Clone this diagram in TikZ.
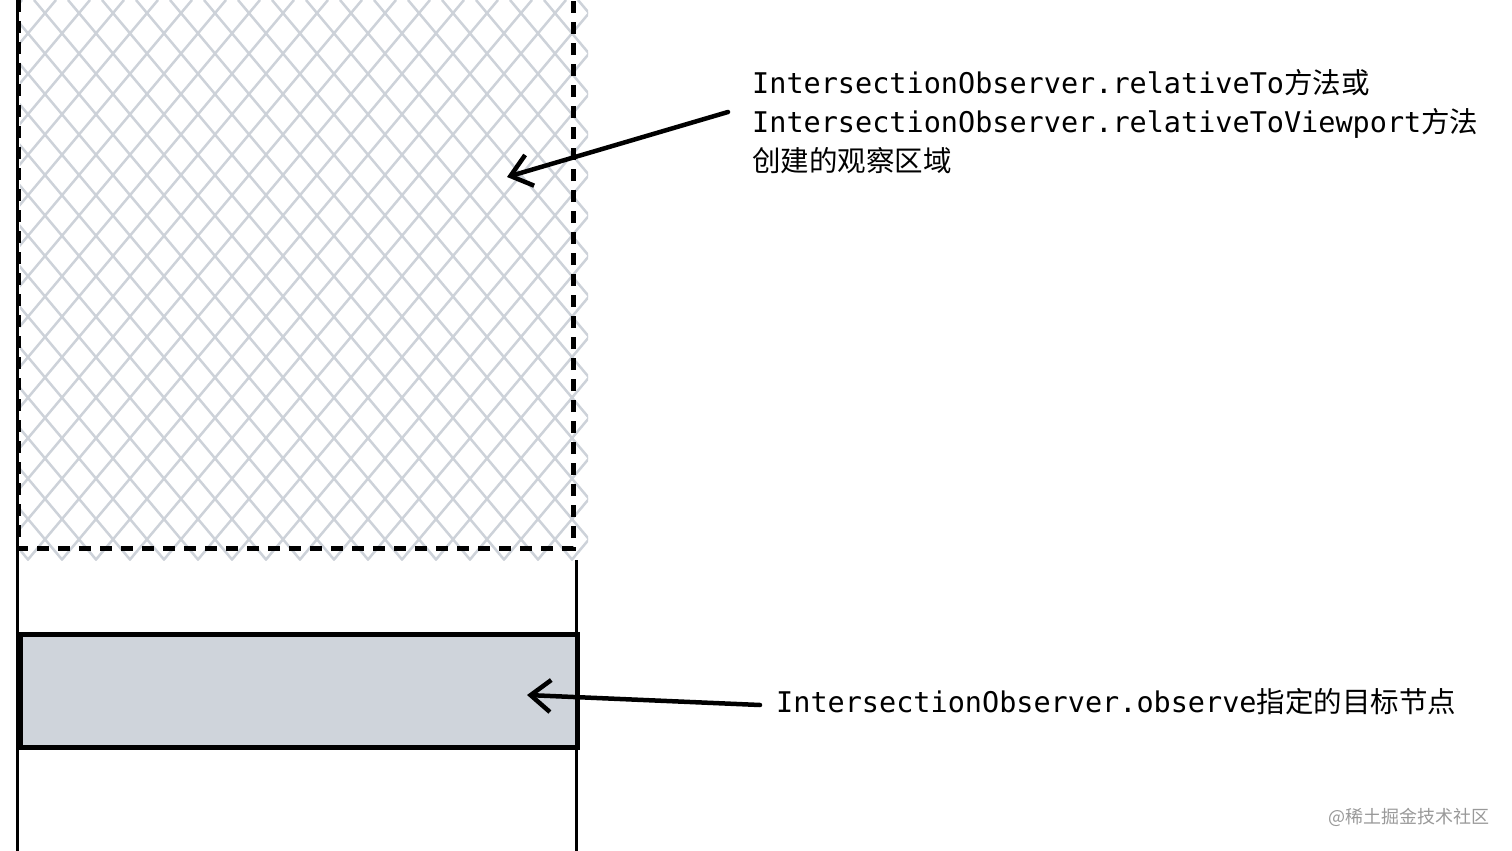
\documentclass[tikz,border=0pt]{standalone}
\usepackage{fontspec}
\setmonofont{DejaVu Sans Mono}
\newfontfamily\cjk{Noto Sans CJK SC}
\usetikzlibrary{arrows.meta}
\definecolor{hatch}{HTML}{CDD2D9}
\definecolor{box}{HTML}{CFD4DB}
\tikzset{x=1pt,y=-1pt,
 lbl/.style={anchor=west,align=left,inner sep=0,font=\fontsize{28.5}{39}\selectfont\ttfamily},
 arr/.style={line width=4.5pt,line cap=round,-{Straight Barb[length=20pt,width=32pt,line width=4.5pt]}}}
\begin{document}
\begin{tikzpicture}
\useasboundingbox (0,0) rectangle (1512,851);
\begin{scope}
\clip (20,0) rectangle (588,560);
\foreach \i in {-25,...,25}{
 \draw[hatch,line width=2.5pt] (\i*34,0) -- ++(560*0.84,560);
 \draw[hatch,line width=2.5pt] (\i*34+600,0) -- ++(-560*0.84,560);
}
\end{scope}
\draw[line width=3pt] (17,0) -- (17,851) (576,560) -- (576,851);
\draw[line width=5pt,dashed,dash pattern=on 12pt off 9pt] (18,0) -- (18,548) -- (573,548) -- (573,0);
\node[draw,line width=5pt,fill=box,minimum width=557pt,minimum height=113pt,inner sep=0,anchor=north west] (tgt) at (18,632) {};
\coordinate (area) at (507,177);
\coordinate (tp) at (527,695);
\node[lbl] (t1) at (752,122) {IntersectionObserver.relativeTo{\cjk 方法或}\\IntersectionObserver.relativeToViewport{\cjk 方法}\\{\cjk 创建的观察区域}};
\node[lbl] (t2) at (776,702) {IntersectionObserver.observe{\cjk 指定的目标节点}};
\draw[arr] (728,112) -- (area);
\draw[arr] (760,705) -- (tp);
\node[anchor=east,inner sep=0,text=gray!80,font=\cjk\fontsize{18}{18}\selectfont] (wm) at (1490,817) {@稀土掘金技术社区};
\end{tikzpicture}
\end{document}
